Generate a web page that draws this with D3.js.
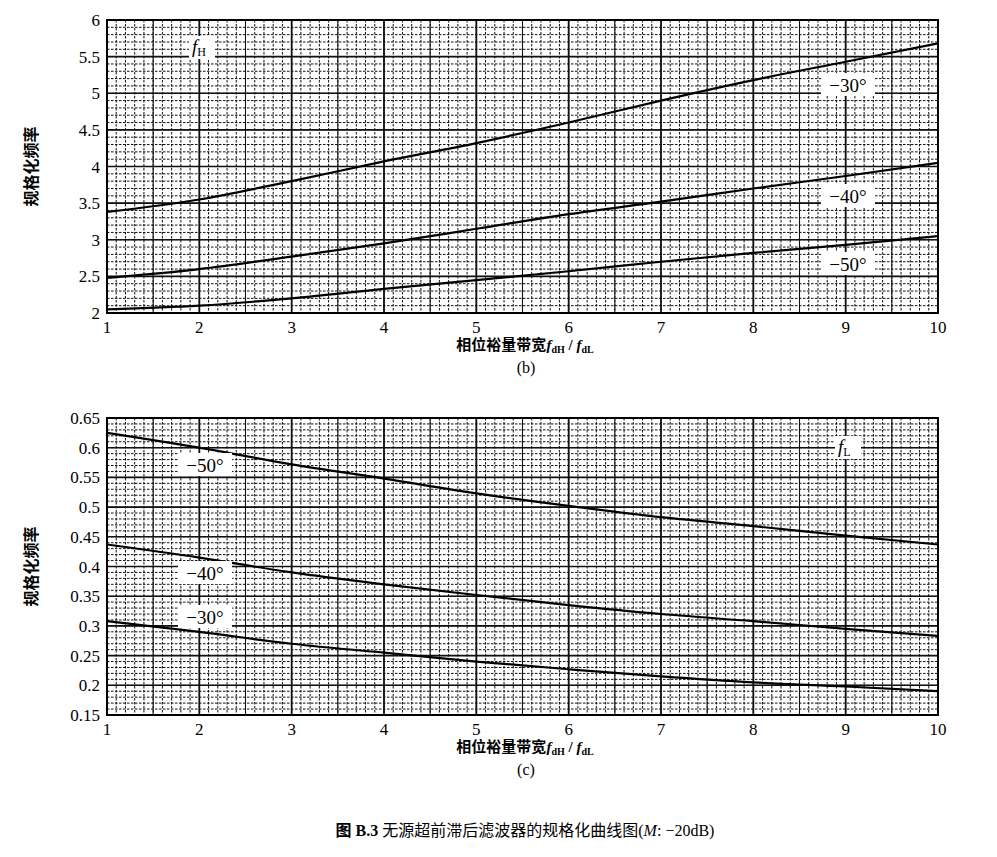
<!DOCTYPE html><html><head><meta charset="utf-8"><script src="https://cdn.jsdelivr.net/npm/d3@7"></script>
<style>body{margin:0;background:#fff}text{font-family:"Liberation Serif","Noto Sans CJK SC",serif}</style></head><body><svg id="c" width="997" height="857"></svg><script>
const xs=[1,2,3,4,5,6,7,8,9,10];
const topXTicks=[1,2,3,4,5,6,7,8,9,10];
const topYTicks=[2,2.5,3,3.5,4,4.5,5,5.5,6];
const topM30=[3.38,3.55,3.8,4.07,4.32,4.6,4.9,5.18,5.43,5.68];
const topM40=[2.48,2.6,2.77,2.95,3.15,3.35,3.52,3.7,3.87,4.05];
const topM50=[2.05,2.1,2.2,2.33,2.45,2.57,2.7,2.82,2.93,3.05];
const botYTicks=[0.15,0.2,0.25,0.3,0.35,0.4,0.45,0.5,0.55,0.6,0.65];
const botM50=[0.625,0.6,0.572,0.548,0.523,0.502,0.483,0.468,0.452,0.437];
const botM40=[0.437,0.415,0.39,0.37,0.352,0.335,0.32,0.308,0.295,0.283];
const botM30=[0.308,0.29,0.27,0.255,0.24,0.227,0.215,0.205,0.198,0.19];
const svg=d3.select("#c");
function panel(y0,y1,dom,yt,minorY,series,labels,fl,flPos,sub,fmt){
 const x=d3.scaleLinear().domain([1,10]).range([107,938]);
 const y=d3.scaleLinear().domain(dom).range([y1,y0]);
 const g=svg.append("g");
 g.append("g").selectAll("line").data(d3.range(1,10.001,0.1)).join("line")
  .attr("x1",d=>x(d)).attr("x2",d=>x(d)).attr("y1",y0).attr("y2",y1).attr("stroke","#111").attr("stroke-width",1).attr("stroke-dasharray","2.5,1.5");
 g.append("g").selectAll("line").data(d3.range(dom[0],dom[1]+1e-9,minorY)).join("line")
  .attr("y1",d=>y(d)).attr("y2",d=>y(d)).attr("x1",107).attr("x2",938).attr("stroke","#111").attr("stroke-width",1).attr("stroke-dasharray","2.5,1.5");
 g.append("g").selectAll("line").data(d3.range(1,10.001,0.5)).join("line")
  .attr("x1",d=>x(d)).attr("x2",d=>x(d)).attr("y1",y0).attr("y2",y1).attr("stroke","#111").attr("stroke-width",d=>d%1===0?1.8:1.1);
 g.append("g").selectAll("line").data(yt).join("line")
  .attr("y1",d=>y(d)).attr("y2",d=>y(d)).attr("x1",107).attr("x2",938).attr("stroke","#111").attr("stroke-width",1.6);
 g.append("rect").attr("x",107).attr("y",y0).attr("width",831).attr("height",y1-y0).attr("fill","none").attr("stroke","#000").attr("stroke-width",2);
 const ln=d3.line().x((d,i)=>x(xs[i])).y(d=>y(d)).curve(d3.curveMonotoneX);
 series.forEach(s=>g.append("path").attr("d",ln(s)).attr("fill","none").attr("stroke","#000").attr("stroke-width",2.2));
 labels.forEach(([t,lx,ly])=>{g.append("rect").attr("x",lx-27).attr("y",ly-12).attr("width",54).attr("height",23).attr("fill","#fff");
  g.append("text").attr("x",lx).attr("y",ly+7).attr("text-anchor","middle").attr("font-size",19).text(t);});
 g.append("rect").attr("x",flPos[0]-3).attr("y",flPos[1]-17).attr("width",26).attr("height",23).attr("fill","#fff");
 const ft=g.append("text").attr("x",flPos[0]).attr("y",flPos[1]).attr("font-size",19);
 ft.append("tspan").attr("font-style","italic").text("f");ft.append("tspan").attr("font-size",12).attr("dy",3).text(fl);
 g.append("g").selectAll("text").data(topXTicks).join("text").attr("x",d=>x(d)).attr("y",y1+20).attr("text-anchor","middle").attr("font-size",17).text(d=>d);
 g.append("g").selectAll("text").data(yt).join("text").attr("x",100).attr("y",d=>y(d)+6).attr("text-anchor","end").attr("font-size",17).text(fmt);
 const xt=g.append("text").attr("x",525).attr("y",y1+37).attr("text-anchor","middle").attr("font-size",15).attr("font-weight","bold");
 xt.append("tspan").text("相位裕量带宽");xt.append("tspan").attr("font-style","italic").text("f");xt.append("tspan").attr("font-size",10).attr("dy",3).text("dH");
 xt.append("tspan").attr("dy",-3).text(" / ");xt.append("tspan").attr("font-style","italic").text("f");xt.append("tspan").attr("font-size",10).attr("dy",3).text("dL");
 g.append("text").attr("x",526).attr("y",y1+60).attr("text-anchor","middle").attr("font-size",16).text(sub);
 g.append("text").attr("transform",`translate(37,${(y0+y1)/2}) rotate(-90)`).attr("text-anchor","middle").attr("font-size",16).attr("font-weight","bold").text("规格化频率");
}
panel(20,313,[2,6],topYTicks,0.1,[topM30,topM40,topM50],[["−30°",848,85],["−40°",848,196],["−50°",848,264]],"H",[192,53],"(b)",d=>d);
panel(418,715,[0.15,0.65],botYTicks,0.01,[botM50,botM40,botM30],[["−50°",205,465],["−40°",205,573],["−30°",205,617]],"L",[838,453],"(c)",d=>d);
const cap=svg.append("text").attr("x",525).attr("y",836).attr("text-anchor","middle").attr("font-size",16);
cap.append("tspan").attr("font-weight","bold").text("图 B.3");cap.append("tspan").text("   无源超前滞后滤波器的规格化曲线图(");
cap.append("tspan").attr("font-style","italic").text("M");cap.append("tspan").text(": −20dB)");
</script></body></html>
